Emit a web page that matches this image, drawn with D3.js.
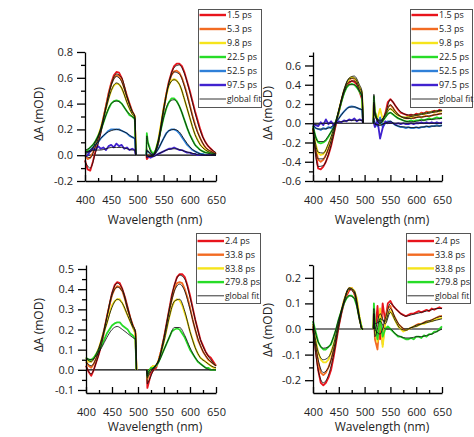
<!DOCTYPE html>
<html>
<head>
<meta charset="utf-8">
<script src="https://cdn.jsdelivr.net/npm/d3@7"></script>
<style>
html, body { margin: 0; padding: 0; background: #fff; }
svg { display: block; font-family: "Open Sans", sans-serif; }
</style>
</head>
<body>
<svg id="chart" width="474" height="437"></svg>
<script>
/*
  Transient absorption spectra, 4 panels, with global fit
*/

// wavelength grids (nm) - data every 5 nm, fits every 10 nm
const WL_A = [400,405,410,415,420,425,430,435,440,445,450,455,460,465,470,475,480,485,490,495];
const WL_B = [518,520,525,530,535,540,545,550,555,560,565,570,575,580,585,590,595,600,605,610,615,620,625,630,635,640,645,650];
const FIT_WL_A = [400,410,420,430,440,450,460,470,480,490,495];
const FIT_WL_B = [518,520,530,540,550,560,570,580,590,600,610,620,630,640,650];
// edges of the blanked pump-scatter window
const GAP_EDGES = [497, 517];

const X_MAJOR = [400,450,500,550,600,650];
const X_MINOR = [425,475,525,575,625];

const LEGEND_TOP = ["1.5 ps","5.3 ps","9.8 ps","22.5 ps","52.5 ps","97.5 ps","global fit"];
const LEGEND_BOTTOM = ["2.4 ps","33.8 ps","83.8 ps","279.8 ps","global fit"];

const P1_Y = [-0.2, 0.8];
const P1_MAJOR = [-0.2,0,0.2,0.4,0.6,0.8];
const P1_MINOR = [-0.1,0.1,0.3,0.5,0.7];
const P2_Y = [-0.6, 0.74];
const P2_MAJOR = [-0.6,-0.4,-0.2,0,0.2,0.4,0.6];
const P2_MINOR = [-0.5,-0.3,-0.1,0.1,0.3,0.5,0.7];
const P3_Y = [-0.115, 0.52];
const P3_MAJOR = [-0.1,0,0.1,0.2,0.3,0.4,0.5];
const P3_MINOR = [-0.05,0.05,0.15,0.25,0.35,0.45];
const P4_Y = [-0.25, 0.25];
const P4_MAJOR = [-0.2,-0.1,0,0.1,0.2];
const P4_MINOR = [-0.15,-0.05,0.05,0.15,0.25];

// ---- panel 1 (top left) ----
const p1A = [
  [-0.04,-0.11,-0.12,-0.05,0.03,0.10,0.18,0.28,0.38,0.48,0.56,0.62,0.645,0.64,0.60,0.53,0.46,0.40,0.34,0.30],
  [0.00,-0.03,-0.02,0.02,0.07,0.13,0.20,0.29,0.38,0.47,0.55,0.60,0.62,0.615,0.58,0.52,0.45,0.39,0.34,0.30],
  [0.03,0.02,0.03,0.06,0.10,0.15,0.21,0.28,0.36,0.44,0.50,0.54,0.555,0.55,0.52,0.47,0.41,0.36,0.32,0.30],
  [0.04,0.04,0.06,0.08,0.11,0.15,0.19,0.25,0.31,0.36,0.40,0.42,0.425,0.42,0.40,0.37,0.34,0.31,0.30,0.28],
  [0.02,0.02,0.04,0.06,0.08,0.10,0.13,0.15,0.17,0.19,0.20,0.20,0.20,0.20,0.19,0.18,0.17,0.15,0.14,0.13],
  [-0.01,0.00,0.03,0.05,0.04,0.07,0.05,0.06,0.04,0.07,0.08,0.06,0.09,0.07,0.08,0.05,0.06,0.04,0.05,0.04]
];
const p1B = [
  [-0.03,-0.02,-0.01,0.00,0.02,0.10,0.22,0.35,0.47,0.57,0.64,0.69,0.71,0.71,0.69,0.64,0.57,0.50,0.42,0.34,0.27,0.20,0.14,0.10,0.07,0.05,0.03,0.01],
  [0.00,0.00,0.00,0.00,0.03,0.11,0.23,0.36,0.47,0.56,0.62,0.65,0.655,0.64,0.60,0.54,0.47,0.39,0.31,0.24,0.18,0.13,0.09,0.06,0.04,0.03,0.02,0.01],
  [0.05,0.03,0.01,0.00,0.04,0.12,0.24,0.36,0.46,0.54,0.58,0.59,0.58,0.55,0.50,0.43,0.36,0.29,0.22,0.16,0.12,0.08,0.06,0.04,0.03,0.02,0.01,0.01],
  [0.17,0.10,0.04,0.01,0.04,0.11,0.20,0.29,0.36,0.41,0.44,0.44,0.42,0.38,0.33,0.27,0.21,0.16,0.12,0.08,0.06,0.04,0.03,0.02,0.02,0.01,0.01,0.00],
  [0.04,0.03,0.01,0.00,0.02,0.05,0.09,0.13,0.17,0.19,0.20,0.20,0.19,0.17,0.14,0.11,0.08,0.06,0.04,0.03,0.02,0.01,0.01,0.00,0.00,0.00,0.00,0.00],
  [0.00,-0.01,-0.02,-0.01,0.00,0.01,0.02,0.03,0.04,0.05,0.05,0.06,0.05,0.04,0.04,0.03,0.02,0.02,0.01,0.01,0.00,0.00,0.00,0.00,0.00,0.00,0.00,0.00]
];
const p1FitA = [
  [-0.05,-0.10,0.02,0.17,0.37,0.55,0.63,0.60,0.46,0.34,0.30],
  [0.00,-0.02,0.07,0.20,0.38,0.54,0.61,0.57,0.45,0.34,0.30],
  [0.03,0.03,0.10,0.21,0.36,0.50,0.56,0.52,0.41,0.32,0.29],
  [0.04,0.06,0.11,0.19,0.31,0.40,0.42,0.40,0.34,0.30,0.28],
  [0.02,0.04,0.08,0.13,0.17,0.19,0.20,0.19,0.17,0.14,0.13],
  [0.01,0.03,0.04,0.04,0.05,0.06,0.06,0.06,0.05,0.04,0.04]
];
const p1FitB = [
  [-0.02,-0.01,0.00,0.09,0.34,0.56,0.68,0.70,0.63,0.49,0.33,0.19,0.10,0.05,0.02],
  [0.00,0.00,0.00,0.11,0.36,0.56,0.645,0.63,0.53,0.38,0.23,0.13,0.06,0.03,0.01],
  [0.04,0.03,0.00,0.12,0.36,0.54,0.585,0.55,0.43,0.29,0.16,0.08,0.04,0.02,0.01],
  [0.15,0.10,0.01,0.11,0.29,0.41,0.43,0.38,0.27,0.16,0.08,0.04,0.02,0.01,0.00],
  [0.03,0.03,0.00,0.05,0.13,0.19,0.20,0.18,0.12,0.065,0.03,0.01,0.00,0.00,0.00],
  [0.00,-0.01,-0.01,0.01,0.03,0.045,0.05,0.045,0.03,0.02,0.01,0.00,0.00,0.00,0.00]
];

// ---- panel 2 (top right) ----
const p2A = [
  [-0.05,-0.30,-0.47,-0.48,-0.45,-0.40,-0.33,-0.24,-0.12,0.00,0.12,0.23,0.32,0.38,0.42,0.44,0.43,0.40,0.33,0.25],
  [-0.04,-0.25,-0.38,-0.40,-0.38,-0.33,-0.27,-0.19,-0.09,0.01,0.12,0.23,0.33,0.40,0.45,0.47,0.46,0.42,0.36,0.30],
  [-0.04,-0.21,-0.31,-0.33,-0.32,-0.28,-0.22,-0.15,-0.07,0.02,0.13,0.24,0.34,0.41,0.46,0.48,0.47,0.44,0.38,0.32],
  [-0.03,-0.14,-0.20,-0.21,-0.20,-0.18,-0.14,-0.09,-0.04,0.03,0.12,0.22,0.31,0.37,0.40,0.41,0.40,0.37,0.33,0.28],
  [-0.02,-0.05,-0.06,-0.07,-0.05,-0.06,-0.04,-0.05,-0.02,0.01,0.05,0.09,0.12,0.15,0.17,0.175,0.17,0.16,0.15,0.14],
  [-0.01,-0.02,-0.03,0.01,-0.02,0.04,-0.01,0.02,-0.02,0.00,0.02,0.01,0.03,0.02,0.04,0.03,0.05,0.02,0.04,0.03]
];
const p2B = [
  [0.20,0.10,0.02,0.00,0.02,0.10,0.22,0.25,0.22,0.18,0.14,0.11,0.10,0.09,0.08,0.09,0.08,0.10,0.09,0.11,0.10,0.12,0.11,0.12,0.13,0.12,0.14,0.13],
  [0.25,0.12,0.04,0.02,0.03,0.09,0.17,0.19,0.16,0.12,0.09,0.07,0.06,0.05,0.05,0.06,0.05,0.06,0.07,0.06,0.07,0.08,0.07,0.08,0.09,0.09,0.10,0.10],
  [0.20,0.08,0.05,0.15,0.04,0.08,0.14,0.15,0.13,0.10,0.08,0.07,0.06,0.06,0.07,0.06,0.08,0.08,0.09,0.10,0.09,0.11,0.11,0.12,0.11,0.13,0.12,0.13],
  [0.28,0.12,0.03,0.00,0.02,0.06,0.10,0.11,0.09,0.07,0.05,0.04,0.03,0.02,0.02,0.03,0.02,0.03,0.03,0.04,0.03,0.04,0.05,0.04,0.05,0.06,0.05,0.06],
  [0.05,0.00,-0.03,0.06,-0.04,0.00,0.02,0.02,0.00,-0.02,-0.03,-0.04,-0.04,-0.05,-0.04,-0.05,-0.05,-0.04,-0.05,-0.04,-0.04,-0.03,-0.04,-0.03,-0.03,-0.02,-0.03,-0.02],
  [0.00,-0.04,0.03,-0.16,-0.05,0.02,0.00,0.01,0.00,-0.01,0.00,-0.01,0.00,-0.01,-0.01,0.00,-0.01,0.00,0.00,0.01,0.00,0.01,0.00,0.01,0.00,0.01,0.00,0.01]
];
const p2FitA = [
  [-0.06,-0.45,-0.44,-0.32,-0.12,0.13,0.33,0.43,0.44,0.34,0.27],
  [-0.05,-0.37,-0.37,-0.26,-0.09,0.13,0.34,0.46,0.47,0.37,0.31],
  [-0.05,-0.30,-0.31,-0.21,-0.06,0.14,0.35,0.47,0.49,0.40,0.33],
  [-0.03,-0.19,-0.19,-0.13,-0.04,0.12,0.31,0.40,0.40,0.33,0.28],
  [-0.02,-0.06,-0.06,-0.05,-0.02,0.05,0.12,0.165,0.17,0.15,0.14],
  [-0.01,-0.01,0.00,0.00,0.00,0.01,0.02,0.03,0.03,0.03,0.03]
];
const p2FitB = [
  [0.20,0.08,0.00,0.10,0.245,0.18,0.12,0.09,0.085,0.09,0.10,0.11,0.12,0.13,0.135],
  [0.22,0.10,0.02,0.09,0.19,0.12,0.07,0.05,0.05,0.06,0.065,0.07,0.08,0.09,0.10],
  [0.20,0.08,0.03,0.08,0.15,0.10,0.07,0.06,0.07,0.08,0.09,0.10,0.11,0.12,0.13],
  [0.30,0.12,0.00,0.06,0.11,0.07,0.04,0.02,0.015,0.02,0.03,0.035,0.04,0.045,0.05],
  [0.05,0.00,-0.02,0.00,0.02,-0.02,-0.035,-0.04,-0.045,-0.045,-0.04,-0.035,-0.03,-0.03,-0.025],
  [0.00,-0.01,-0.02,0.00,0.00,0.00,0.00,0.00,0.00,0.00,0.00,0.00,0.00,0.00,0.00]
];

// ---- panel 3 (bottom left) ----
const p3A = [
  [0.02,-0.01,-0.03,0.00,0.04,0.08,0.13,0.19,0.26,0.32,0.38,0.42,0.435,0.43,0.40,0.36,0.31,0.26,0.22,0.18],
  [0.04,0.02,0.01,0.03,0.06,0.10,0.15,0.20,0.26,0.32,0.37,0.40,0.415,0.41,0.39,0.35,0.30,0.26,0.22,0.19],
  [0.06,0.04,0.04,0.06,0.08,0.11,0.15,0.19,0.23,0.28,0.32,0.34,0.35,0.35,0.33,0.30,0.27,0.24,0.21,0.18],
  [0.06,0.05,0.05,0.06,0.08,0.10,0.12,0.15,0.18,0.20,0.22,0.23,0.235,0.235,0.22,0.21,0.20,0.18,0.17,0.15]
];
const p3B = [
  [-0.09,-0.07,-0.02,0.00,0.01,0.05,0.10,0.16,0.23,0.30,0.37,0.42,0.46,0.475,0.475,0.46,0.42,0.37,0.31,0.25,0.20,0.15,0.12,0.09,0.07,0.06,0.04,0.02],
  [-0.05,-0.03,0.01,0.02,0.02,0.05,0.10,0.16,0.22,0.29,0.35,0.40,0.43,0.435,0.43,0.40,0.36,0.31,0.25,0.20,0.15,0.12,0.09,0.07,0.05,0.04,0.03,0.02],
  [-0.04,-0.02,0.01,0.02,0.02,0.05,0.09,0.14,0.20,0.26,0.31,0.34,0.35,0.345,0.32,0.28,0.24,0.19,0.15,0.11,0.08,0.06,0.05,0.04,0.03,0.02,0.01,0.01],
  [-0.03,-0.01,0.01,0.01,0.02,0.04,0.07,0.10,0.13,0.16,0.19,0.20,0.205,0.20,0.18,0.16,0.13,0.10,0.08,0.06,0.04,0.03,0.02,0.01,0.01,0.00,0.00,0.00]
];
const p3FitA = [
  [0.02,-0.02,0.04,0.13,0.26,0.38,0.43,0.40,0.31,0.22,0.19],
  [0.04,0.02,0.06,0.15,0.26,0.37,0.41,0.39,0.30,0.22,0.19],
  [0.06,0.04,0.08,0.15,0.23,0.31,0.35,0.33,0.27,0.21,0.18],
  [0.06,0.05,0.07,0.11,0.16,0.20,0.215,0.20,0.18,0.16,0.15]
];
const p3FitB = [
  [-0.07,-0.06,0.00,0.05,0.16,0.30,0.42,0.47,0.45,0.36,0.25,0.15,0.09,0.05,0.02],
  [-0.04,-0.03,0.01,0.05,0.16,0.29,0.39,0.425,0.39,0.30,0.20,0.12,0.07,0.04,0.02],
  [-0.03,-0.02,0.01,0.05,0.14,0.26,0.34,0.35,0.29,0.19,0.11,0.06,0.04,0.02,0.01],
  [-0.02,-0.01,0.01,0.04,0.10,0.16,0.21,0.21,0.17,0.11,0.06,0.03,0.01,0.00,0.00]
];

// ---- panel 4 (bottom right) ----
const p4A = [
  [0.00,-0.08,-0.16,-0.21,-0.22,-0.21,-0.19,-0.16,-0.11,-0.05,0.01,0.06,0.10,0.13,0.15,0.16,0.14,0.10,0.04,0.00],
  [0.01,-0.06,-0.13,-0.17,-0.18,-0.17,-0.15,-0.12,-0.08,-0.03,0.02,0.07,0.11,0.14,0.16,0.16,0.14,0.10,0.04,0.00],
  [0.02,-0.04,-0.09,-0.12,-0.13,-0.13,-0.12,-0.09,-0.06,-0.02,0.03,0.07,0.11,0.14,0.16,0.16,0.15,0.12,0.05,0.00],
  [0.03,-0.01,-0.05,-0.07,-0.08,-0.08,-0.07,-0.06,-0.03,0.00,0.04,0.07,0.10,0.12,0.13,0.13,0.12,0.09,0.04,0.00]
];
const p4B = [
  [0.06,-0.02,0.09,-0.04,0.10,0.03,0.10,0.11,0.09,0.08,0.07,0.06,0.055,0.05,0.055,0.06,0.06,0.065,0.07,0.065,0.07,0.075,0.07,0.08,0.075,0.08,0.085,0.08],
  [0.08,-0.04,-0.08,0.05,-0.06,0.04,0.08,0.09,0.06,0.04,0.02,0.01,0.00,-0.005,0.00,0.005,0.01,0.015,0.02,0.02,0.025,0.03,0.03,0.035,0.04,0.045,0.05,0.05],
  [0.05,0.00,-0.05,0.08,-0.07,0.02,0.06,0.07,0.05,0.03,0.01,0.00,-0.01,-0.005,0.00,0.005,0.01,0.01,0.015,0.02,0.02,0.025,0.03,0.03,0.035,0.04,0.04,0.045],
  [0.10,0.03,-0.04,0.04,-0.03,0.00,0.01,0.00,-0.01,-0.02,-0.03,-0.03,-0.035,-0.04,-0.04,-0.035,-0.04,-0.03,-0.03,-0.035,-0.025,-0.03,-0.02,-0.02,-0.01,-0.01,0.00,0.01]
];
const p4FitA = [
  [0.00,-0.16,-0.21,-0.18,-0.10,0.01,0.10,0.155,0.14,0.04,0.00],
  [0.01,-0.12,-0.17,-0.15,-0.08,0.02,0.11,0.16,0.145,0.04,0.00],
  [0.02,-0.09,-0.12,-0.11,-0.06,0.03,0.11,0.16,0.15,0.05,0.00],
  [0.03,-0.05,-0.075,-0.07,-0.03,0.04,0.10,0.13,0.12,0.04,0.00]
];
const p4FitB = [
  [0.06,0.00,-0.02,0.04,0.10,0.08,0.06,0.05,0.055,0.06,0.065,0.07,0.075,0.08,0.08],
  [0.06,-0.03,0.04,0.03,0.08,0.04,0.01,0.00,0.005,0.015,0.02,0.03,0.035,0.045,0.05],
  [0.05,0.00,0.06,0.02,0.065,0.03,0.00,-0.005,0.005,0.01,0.02,0.025,0.03,0.035,0.04],
  [0.08,0.02,0.03,0.00,0.00,-0.02,-0.03,-0.035,-0.035,-0.03,-0.03,-0.025,-0.02,-0.01,0.00]
];

const COLORS = ["#e8141c", "#f26b22", "#f6e41c", "#27dc27", "#2f80d8", "#4022cf"];
const FIT_COLOR = "#111";

const panels = [
  { A: p1A, B: p1B, fA: p1FitA, fB: p1FitB, labels: LEGEND_TOP, yDom: P1_Y, yMaj: P1_MAJOR, yMin: P1_MINOR,
    left: 85, right: 216, top: 52, bottom: 181, yLab: [40, 114], xLab: [155, 224],
    legend: { x: 198, y: 9, w: 63, h: 98, row0: 15, dy: 14 } },
  { A: p2A, B: p2B, fA: p2FitA, fB: p2FitB, labels: LEGEND_TOP, yDom: P2_Y, yMaj: P2_MAJOR, yMin: P2_MINOR,
    left: 313, right: 442, top: 52, bottom: 181, yLab: [269, 113], xLab: [382, 224],
    legend: { x: 410, y: 9, w: 62, h: 98, row0: 15, dy: 14 } },
  { A: p3A, B: p3B, fA: p3FitA, fB: p3FitB, labels: LEGEND_BOTTOM, yDom: P3_Y, yMaj: P3_MAJOR, yMin: P3_MINOR,
    left: 86, right: 216, top: 265, bottom: 393, yLab: [40, 325], xLab: [155, 431],
    legend: { x: 196, y: 233, w: 64, h: 70, row0: 241, dy: 13.7 } },
  { A: p4A, B: p4B, fA: p4FitA, fB: p4FitB, labels: LEGEND_BOTTOM, yDom: P4_Y, yMaj: P4_MAJOR, yMin: P4_MINOR,
    left: 313, right: 442, top: 265, bottom: 393, yLab: [269, 330], xLab: [382, 431],
    legend: { x: 406, y: 233, w: 64, h: 70, row0: 241, dy: 13.7 } }
];

const svg = d3.select("#chart");

// join both bands into one series, dropping to zero at the gap edges
function buildSeries(wlA, valsA, wlB, valsB) {
  var pts = wlA.map(function (w, i) { return [w, valsA[i]]; });
  pts.push([GAP_EDGES[0], 0]);
  pts.push([(GAP_EDGES[0] + GAP_EDGES[1]) / 2, null]);
  pts.push([GAP_EDGES[1], 0]);
  return pts.concat(wlB.map(function (w, i) { return [w, valsB[i]]; }));
}

function styleAxis(g, size) {
  g.attr("font-family", "'Open Sans', sans-serif").attr("font-size", size);
  g.selectAll("line, path").attr("stroke", "#000").attr("stroke-width", 1.3);
  g.selectAll("text").attr("fill", "#222");
}

function drawPanel(p) {
  var g = svg.append("g");
  var x = d3.scaleLinear().domain([400, 650]).range([p.left, p.right]);
  var y = d3.scaleLinear().domain(p.yDom).range([p.bottom, p.top]);

  // zero line
  g.append("line")
    .attr("x1", x(400)).attr("x2", x(650))
    .attr("y1", y(0)).attr("y2", y(0))
    .attr("stroke", "#000").attr("stroke-width", 1.2);

  var dataLine = d3.line()
    .defined(function (d) { return d[1] != null && !isNaN(d[1]); })
    .x(function (d) { return x(d[0]); })
    .y(function (d) { return y(d[1]); });
  var fitLine = d3.line()
    .defined(function (d) { return d[1] != null && !isNaN(d[1]); })
    .curve(d3.curveMonotoneX)
    .x(function (d) { return x(d[0]); })
    .y(function (d) { return y(d[1]); });

  p.A.forEach(function (a, i) {
    g.append("path")
      .datum(buildSeries(WL_A, a, WL_B, p.B[i]))
      .attr("d", dataLine)
      .attr("fill", "none")
      .attr("stroke", COLORS[i])
      .attr("stroke-width", 1.8)
      .attr("stroke-linejoin", "round");
  });
  p.fA.forEach(function (a, i) {
    g.append("path")
      .datum(buildSeries(FIT_WL_A, a, FIT_WL_B, p.fB[i]))
      .attr("d", fitLine)
      .attr("fill", "none")
      .attr("stroke", FIT_COLOR)
      .attr("stroke-width", 1)
      .attr("stroke-opacity", 0.85);
  });

  // y axis - outward ticks, major + minor
  var ya = g.append("g").attr("transform", "translate(" + p.left + ",0)")
    .call(d3.axisLeft(y).tickValues(p.yMaj).tickSize(8).tickSizeOuter(0).tickPadding(4)
      .tickFormat(function (d) { return d.toFixed(1); }));
  styleAxis(ya, 11);
  var ym = g.append("g").attr("transform", "translate(" + p.left + ",0)")
    .call(d3.axisLeft(y).tickValues(p.yMin).tickSize(4).tickFormat(""));
  ym.select(".domain").remove();
  styleAxis(ym, 11);

  // x axis - inward ticks
  var xa = g.append("g").attr("transform", "translate(0," + p.bottom + ")")
    .call(d3.axisBottom(x).tickValues(X_MAJOR).tickSizeInner(-6).tickSizeOuter(0).tickPadding(15)
      .tickFormat(d3.format("d")));
  styleAxis(xa, 11);
  var xm = g.append("g").attr("transform", "translate(0," + p.bottom + ")")
    .call(d3.axisBottom(x).tickValues(X_MINOR).tickSizeInner(-3).tickSizeOuter(0).tickFormat(""));
  xm.select(".domain").remove();
  styleAxis(xm, 11);

  // titles
  g.append("text")
    .attr("x", p.xLab[0]).attr("y", p.xLab[1])
    .attr("text-anchor", "middle").attr("font-size", 12).attr("fill", "#222")
    .text("Wavelength (nm)");
  g.append("text")
    .attr("transform", "translate(" + p.yLab[0] + "," + p.yLab[1] + ") rotate(-90)")
    .attr("text-anchor", "middle").attr("dominant-baseline", "middle")
    .attr("font-size", 12).attr("fill", "#222")
    .text("\u0394A (mOD)");

  // legend
  var L = p.legend;
  var lg = svg.append("g");
  lg.append("rect")
    .attr("x", L.x + 0.5).attr("y", L.y + 0.5).attr("width", L.w).attr("height", L.h)
    .attr("fill", "#fff").attr("stroke", "#555").attr("stroke-width", 1);
  p.labels.forEach(function (lab, i) {
    var ry = L.row0 + i * L.dy;
    var isFit = i === p.labels.length - 1;
    lg.append("line")
      .attr("x1", L.x + 1.5).attr("x2", L.x + 28)
      .attr("y1", ry).attr("y2", ry)
      .attr("stroke", isFit ? "#333" : COLORS[i])
      .attr("stroke-width", isFit ? 1 : 2.4);
    lg.append("text")
      .attr("x", L.x + 29).attr("y", ry + 3.2)
      .attr("font-size", isFit ? 8.5 : 9).attr("fill", "#222")
      .text(lab);
  });
}

panels.forEach(drawPanel);
</script>
</body>
</html>
